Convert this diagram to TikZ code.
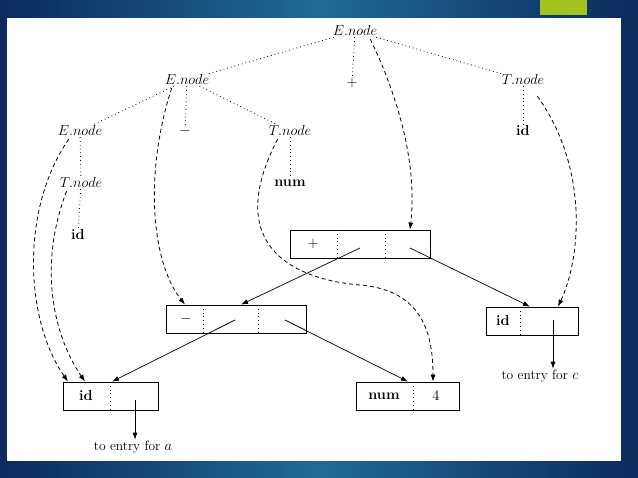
\documentclass[tikz,border=0pt]{standalone}
\usetikzlibrary{arrows.meta}
\definecolor{navy}{HTML}{0C2A5E}
\definecolor{teal2}{HTML}{1F6A93}
\definecolor{lime}{HTML}{A3C41E}
\begin{document}
\begin{tikzpicture}[x=1pt,y=-1pt,
  lbl/.style={inner sep=1pt,font=\fontsize{14.5}{16}\selectfont},
  sml/.style={inner sep=1pt,font=\fontsize{13.5}{15}\selectfont},
  dot/.style={line width=0.8pt,dash pattern=on 0.8pt off 3pt},
  dsh/.style={line width=0.8pt,dash pattern=on 4pt off 3pt,-{Latex[length=7pt,width=5pt]}},
  ptr/.style={line width=0.7pt,-{Latex[length=7pt,width=5pt]}},
  rec/.style={draw,line width=0.8pt,minimum height=28pt,inner sep=0pt},
  div/.style={line width=0.6pt,dash pattern=on 0.8pt off 3pt}]
\useasboundingbox (0,0) rectangle (638,478);
\shade[left color=navy,right color=navy,middle color=teal2] (0,0) rectangle (638,478);
\fill[white] (7,18) rectangle (621,461);
\fill[lime] (540,0) rectangle (587,15);
% tree labels
\node[lbl] (e0) at (355,31) {$E.node$};
\node[lbl] (e1) at (187,80) {$E.node$};
\node[lbl] (p) at (352,83) {$+$};
\node[lbl] (t1) at (523,80) {$T.node$};
\node[lbl] (e2) at (80,131) {$E.node$};
\node[lbl] (m) at (185,131) {$-$};
\node[lbl] (t2) at (290,131) {$T.node$};
\node[lbl] (i1) at (523,131) {\textbf{id}};
\node[lbl] (t3) at (81,183) {$T.node$};
\node[lbl] (n1) at (290,183) {\textbf{num}};
\node[lbl] (i2) at (78,235) {\textbf{id}};
\draw[dot] (e0) -- (e1); \draw[dot] (e0) -- (p); \draw[dot] (e0) -- (t1);
\draw[dot] (e1) -- (e2); \draw[dot] (e1) -- (m); \draw[dot] (e1) -- (t2);
\draw[dot] (t1) -- (i1); \draw[dot] (e2) -- (t3); \draw[dot] (t3) -- (i2); \draw[dot] (t2) -- (n1);
% boxes
\node[rec,minimum width=140pt] (bp) at (360,244) {};
\draw[div] (337,230) -- (337,258); \draw[div] (385,230) -- (385,258);
\node[lbl] at (313,244) {$+$};
\node[rec,minimum width=140pt] (bm) at (236,319) {};
\draw[div] (203,305) -- (203,333); \draw[div] (258,305) -- (258,333);
\node[lbl] at (186,319) {$-$};
\node[rec,minimum width=92pt] (bc) at (532,321) {};
\draw[div] (520,307) -- (520,335);
\node[lbl] at (503,321) {\textbf{id}};
\node[rec,minimum width=95pt] (ba) at (110.5,396) {};
\draw[div] (110,382) -- (110,410);
\node[lbl] at (86,396) {\textbf{id}};
\node[rec,minimum width=103pt] (bn) at (407.5,396) {};
\draw[div] (413,382) -- (413,410);
\node[lbl] at (384,396) {\textbf{num}};
\node[lbl] at (436,396) {4};
\node[sml] (lc) at (540,376) {to entry for $c$};
\node[sml] (la) at (133,447) {to entry for $a$};
% pointers
\coordinate (s1) at (360,248); \coordinate (s2) at (410,248);
\coordinate (s3) at (235,320); \coordinate (s4) at (285,320);
\coordinate (s5) at (553,320); \coordinate (s6) at (135,400);
\draw[ptr] (s1) -- (bm.north -| 241,0);
\draw[ptr] (s2) -- (bc.north -| 530,0);
\draw[ptr] (s3) -- (ba.north -| 112,0);
\draw[ptr] (s4) -- (bn.north -| 408,0);
\draw[ptr] (s5) -- (lc.north -| 553,0);
\draw[ptr] (s6) -- (la.north -| 135,0);
% dashed
\draw[dsh] (e0.south east) ++(-8,2) .. controls (395,90) and (418,160) .. (bp.north -| 410,0);
\draw[dsh] (e1.south west) ++(8,2) .. controls (145,170) and (150,260) .. (bm.north -| 185,0);
\draw[dsh] (e2.south west) ++(12,2) .. controls (20,210) and (25,320) .. (ba.north -| 68,0);
\draw[dsh] (t3.south west) ++(8,2) .. controls (40,260) and (50,330) .. (ba.north -| 85,0);
\draw[dsh] (t2.south west) ++(10,2) .. controls (220,250) and (300,280) .. (360,285) .. controls (420,290) and (433,330) .. (bn.north -| 433,0);
\draw[dsh] (t1.south east) ++(-8,10) .. controls (590,170) and (580,260) .. (bc.north -| 558,0);
\end{tikzpicture}
\end{document}
